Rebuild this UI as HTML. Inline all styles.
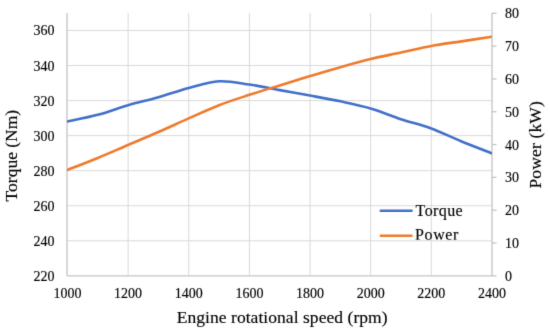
<!DOCTYPE html>
<html><head><meta charset="utf-8"><style>
html,body{margin:0;padding:0;background:#fff;width:550px;height:333px;overflow:hidden}
svg{display:block}
.g{stroke:#d9d9d9;stroke-width:1.0;fill:none}
.a{stroke:#c4c4c4;stroke-width:1.3;fill:none}
.s1{stroke:#4070c8;stroke-width:2.6;fill:none;stroke-linecap:round;stroke-linejoin:round}
.s2{stroke:#ee7a2c;stroke-width:2.6;fill:none;stroke-linecap:round;stroke-linejoin:round}
text{font-family:"Liberation Serif","Times New Roman",serif;fill:#000;stroke:#000;stroke-width:0.15px}
.t{font-size:14px}
.ti{font-size:17.5px}
.lg{font-size:16px}
</style></head><body>
<svg width="550" height="333" viewBox="0 0 550 333">
<defs><filter id="bl" x="0" y="0" width="550" height="333" filterUnits="userSpaceOnUse"><feConvolveMatrix order="3" kernelMatrix="0.01134 0.08382 0.01134 0.08382 0.61935 0.08382 0.01134 0.08382 0.01134" edgeMode="none"/></filter></defs>
<rect width="550" height="333" fill="#fff"/>
<g filter="url(#bl)">
<line x1="67.00" y1="240.80" x2="492.00" y2="240.80" class="g"/>
<line x1="67.00" y1="205.74" x2="492.00" y2="205.74" class="g"/>
<line x1="67.00" y1="170.69" x2="492.00" y2="170.69" class="g"/>
<line x1="67.00" y1="135.64" x2="492.00" y2="135.64" class="g"/>
<line x1="67.00" y1="100.58" x2="492.00" y2="100.58" class="g"/>
<line x1="67.00" y1="65.53" x2="492.00" y2="65.53" class="g"/>
<line x1="67.00" y1="30.48" x2="492.00" y2="30.48" class="g"/>
<line x1="128.10" y1="12.95" x2="128.10" y2="275.85" class="g"/>
<line x1="188.74" y1="12.95" x2="188.74" y2="275.85" class="g"/>
<line x1="249.38" y1="12.95" x2="249.38" y2="275.85" class="g"/>
<line x1="310.02" y1="12.95" x2="310.02" y2="275.85" class="g"/>
<line x1="370.66" y1="12.95" x2="370.66" y2="275.85" class="g"/>
<line x1="431.30" y1="12.95" x2="431.30" y2="275.85" class="g"/>
<line x1="67.00" y1="12.95" x2="67.00" y2="275.85" class="a"/>
<line x1="492.00" y1="12.95" x2="492.00" y2="275.85" class="a"/>
<line x1="67.00" y1="275.85" x2="492.00" y2="275.85" class="a"/>
<line x1="492.00" y1="275.85" x2="496.50" y2="275.85" class="a"/>
<line x1="492.00" y1="243.03" x2="496.50" y2="243.03" class="a"/>
<line x1="492.00" y1="210.21" x2="496.50" y2="210.21" class="a"/>
<line x1="492.00" y1="177.39" x2="496.50" y2="177.39" class="a"/>
<line x1="492.00" y1="144.58" x2="496.50" y2="144.58" class="a"/>
<line x1="492.00" y1="111.76" x2="496.50" y2="111.76" class="a"/>
<line x1="492.00" y1="78.94" x2="496.50" y2="78.94" class="a"/>
<line x1="492.00" y1="46.12" x2="496.50" y2="46.12" class="a"/>
<line x1="492.00" y1="13.30" x2="496.50" y2="13.30" class="a"/>
<text x="54.5" y="276.35" class="t" text-anchor="end" dominant-baseline="central">220</text>
<text x="54.5" y="241.30" class="t" text-anchor="end" dominant-baseline="central">240</text>
<text x="54.5" y="206.24" class="t" text-anchor="end" dominant-baseline="central">260</text>
<text x="54.5" y="171.19" class="t" text-anchor="end" dominant-baseline="central">280</text>
<text x="54.5" y="136.14" class="t" text-anchor="end" dominant-baseline="central">300</text>
<text x="54.5" y="101.08" class="t" text-anchor="end" dominant-baseline="central">320</text>
<text x="54.5" y="66.03" class="t" text-anchor="end" dominant-baseline="central">340</text>
<text x="54.5" y="30.98" class="t" text-anchor="end" dominant-baseline="central">360</text>
<text x="504.9" y="276.35" class="t" dominant-baseline="central">0</text>
<text x="504.9" y="243.53" class="t" dominant-baseline="central">10</text>
<text x="504.9" y="210.71" class="t" dominant-baseline="central">20</text>
<text x="504.9" y="177.89" class="t" dominant-baseline="central">30</text>
<text x="504.9" y="145.08" class="t" dominant-baseline="central">40</text>
<text x="504.9" y="112.26" class="t" dominant-baseline="central">50</text>
<text x="504.9" y="79.44" class="t" dominant-baseline="central">60</text>
<text x="504.9" y="46.62" class="t" dominant-baseline="central">70</text>
<text x="504.9" y="13.80" class="t" dominant-baseline="central">80</text>
<text x="67.46" y="298" class="t" text-anchor="middle">1000</text>
<text x="128.10" y="298" class="t" text-anchor="middle">1200</text>
<text x="188.74" y="298" class="t" text-anchor="middle">1400</text>
<text x="249.38" y="298" class="t" text-anchor="middle">1600</text>
<text x="310.02" y="298" class="t" text-anchor="middle">1800</text>
<text x="370.66" y="298" class="t" text-anchor="middle">2000</text>
<text x="431.30" y="298" class="t" text-anchor="middle">2200</text>
<text x="491.94" y="298" class="t" text-anchor="middle">2400</text>
<clipPath id="pa"><rect x="67.00" y="0" width="425.00" height="333"/></clipPath>
<path d="M67.46,121.55 C72.51,120.43 87.67,117.56 97.78,114.83 C107.89,112.10 117.99,108.10 128.10,105.18 C138.21,102.25 148.31,100.14 158.42,97.27 C168.53,94.40 178.63,90.61 188.74,87.95 C198.85,85.28 208.95,81.85 219.06,81.29 C229.17,80.72 239.27,83.08 249.38,84.55 C259.49,86.02 269.59,88.27 279.70,90.10 C289.81,91.93 299.91,93.65 310.02,95.52 C320.13,97.39 330.23,99.17 340.34,101.32 C350.45,103.47 360.55,105.46 370.66,108.44 C380.77,111.41 390.87,115.87 400.98,119.20 C411.09,122.53 421.19,124.70 431.30,128.42 C441.41,132.13 451.51,137.37 461.62,141.51 C471.73,145.65 486.89,151.29 491.94,153.25" class="s1" clip-path="url(#pa)"/>
<path d="M67.46,169.98 C72.51,167.98 87.67,162.12 97.78,157.95 C107.89,153.78 117.99,149.28 128.10,144.96 C138.21,140.64 148.31,136.46 158.42,132.04 C168.53,127.61 178.63,122.88 188.74,118.41 C198.85,113.94 208.95,109.14 219.06,105.21 C229.17,101.28 239.27,98.16 249.38,94.86 C259.49,91.55 269.59,88.52 279.70,85.40 C289.81,82.27 299.91,79.14 310.02,76.10 C320.13,73.07 330.23,70.02 340.34,67.17 C350.45,64.31 360.55,61.41 370.66,58.98 C380.77,56.54 390.87,54.74 400.98,52.56 C411.09,50.39 421.19,47.78 431.30,45.91 C441.41,44.04 451.51,42.90 461.62,41.36 C471.73,39.82 486.89,37.47 491.94,36.69" class="s2" clip-path="url(#pa)"/>
<text x="282.2" y="323.2" class="ti" text-anchor="middle" style="letter-spacing:0.05px">Engine rotational speed (rpm)</text>
<text transform="translate(17.1,155.6) rotate(-90)" class="ti" text-anchor="middle">Torque (Nm)</text>
<text transform="translate(541.0,144.8) rotate(-90)" class="ti" text-anchor="middle" style="letter-spacing:0.15px">Power (kW)</text>
<line x1="380.8" y1="210.8" x2="411.5" y2="210.8" class="s1"/>
<line x1="380.8" y1="235.8" x2="411.5" y2="235.8" class="s2"/>
<text x="415.6" y="216.2" class="lg" style="letter-spacing:0.4px">Torque</text>
<text x="415.1" y="240.3" class="lg" style="letter-spacing:0.6px">Power</text>
</g>
</svg>
</body></html>
